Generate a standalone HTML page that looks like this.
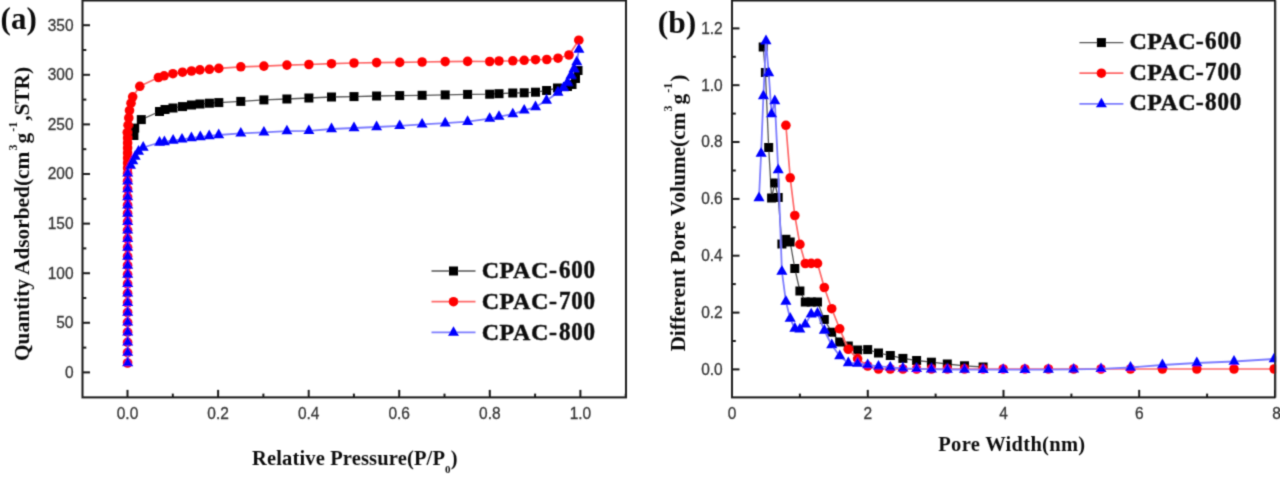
<!DOCTYPE html>
<html><head><meta charset="utf-8"><style>
html,body{margin:0;padding:0;background:#fff;width:1280px;height:477px;overflow:hidden}
svg{display:block}
.tk{font-family:"Liberation Sans",sans-serif;font-size:15.5px;fill:#383838;stroke:#383838;stroke-width:0.3px}
.ti{font-family:"Liberation Serif",serif;font-weight:bold;font-size:20.5px;fill:#111}
.lg{font-family:"Liberation Serif",serif;font-weight:bold;font-size:24px;fill:#111;stroke:#111;stroke-width:0.45px}
.pl{font-family:"Liberation Serif",serif;font-weight:bold;font-size:31.5px;fill:#111}
</style></head><body>
<svg width="1280" height="477" viewBox="0 0 1280 477">
<defs><filter id="bl" x="0" y="0" width="100%" height="100%" filterUnits="userSpaceOnUse"><feConvolveMatrix order="3" kernelMatrix="0.0277 0.1110 0.0277 0.1110 0.4452 0.1110 0.0277 0.1110 0.0277" divisor="1" edgeMode="duplicate"/></filter></defs>
<rect width="1280" height="477" fill="#fff"/>
<g filter="url(#bl)">
<g>
<line x1="82.5" y1="372.4" x2="90.0" y2="372.4" stroke="#1a1a1a" stroke-width="2"/>
<text transform="translate(73.5,377.7) scale(1,1.1)" text-anchor="end" class="tk">0</text>
<line x1="82.5" y1="322.8" x2="90.0" y2="322.8" stroke="#1a1a1a" stroke-width="2"/>
<text transform="translate(73.5,328.1) scale(1,1.1)" text-anchor="end" class="tk">50</text>
<line x1="82.5" y1="273.2" x2="90.0" y2="273.2" stroke="#1a1a1a" stroke-width="2"/>
<text transform="translate(73.5,278.5) scale(1,1.1)" text-anchor="end" class="tk">100</text>
<line x1="82.5" y1="223.6" x2="90.0" y2="223.6" stroke="#1a1a1a" stroke-width="2"/>
<text transform="translate(73.5,228.9) scale(1,1.1)" text-anchor="end" class="tk">150</text>
<line x1="82.5" y1="174.0" x2="90.0" y2="174.0" stroke="#1a1a1a" stroke-width="2"/>
<text transform="translate(73.5,179.3) scale(1,1.1)" text-anchor="end" class="tk">200</text>
<line x1="82.5" y1="124.4" x2="90.0" y2="124.4" stroke="#1a1a1a" stroke-width="2"/>
<text transform="translate(73.5,129.7) scale(1,1.1)" text-anchor="end" class="tk">250</text>
<line x1="82.5" y1="74.8" x2="90.0" y2="74.8" stroke="#1a1a1a" stroke-width="2"/>
<text transform="translate(73.5,80.1) scale(1,1.1)" text-anchor="end" class="tk">300</text>
<line x1="82.5" y1="25.2" x2="90.0" y2="25.2" stroke="#1a1a1a" stroke-width="2"/>
<text transform="translate(73.5,30.5) scale(1,1.1)" text-anchor="end" class="tk">350</text>
<line x1="82.5" y1="347.6" x2="86.3" y2="347.6" stroke="#1a1a1a" stroke-width="2"/>
<line x1="82.5" y1="298.0" x2="86.3" y2="298.0" stroke="#1a1a1a" stroke-width="2"/>
<line x1="82.5" y1="248.4" x2="86.3" y2="248.4" stroke="#1a1a1a" stroke-width="2"/>
<line x1="82.5" y1="198.8" x2="86.3" y2="198.8" stroke="#1a1a1a" stroke-width="2"/>
<line x1="82.5" y1="149.2" x2="86.3" y2="149.2" stroke="#1a1a1a" stroke-width="2"/>
<line x1="82.5" y1="99.6" x2="86.3" y2="99.6" stroke="#1a1a1a" stroke-width="2"/>
<line x1="82.5" y1="50.0" x2="86.3" y2="50.0" stroke="#1a1a1a" stroke-width="2"/>
<line x1="127.5" y1="397.4" x2="127.5" y2="389.9" stroke="#1a1a1a" stroke-width="2"/>
<text transform="translate(127.5,419.4) scale(1,1.1)" text-anchor="middle" class="tk">0.0</text>
<line x1="218.1" y1="397.4" x2="218.1" y2="389.9" stroke="#1a1a1a" stroke-width="2"/>
<text transform="translate(218.1,419.4) scale(1,1.1)" text-anchor="middle" class="tk">0.2</text>
<line x1="308.7" y1="397.4" x2="308.7" y2="389.9" stroke="#1a1a1a" stroke-width="2"/>
<text transform="translate(308.7,419.4) scale(1,1.1)" text-anchor="middle" class="tk">0.4</text>
<line x1="399.2" y1="397.4" x2="399.2" y2="389.9" stroke="#1a1a1a" stroke-width="2"/>
<text transform="translate(399.2,419.4) scale(1,1.1)" text-anchor="middle" class="tk">0.6</text>
<line x1="489.8" y1="397.4" x2="489.8" y2="389.9" stroke="#1a1a1a" stroke-width="2"/>
<text transform="translate(489.8,419.4) scale(1,1.1)" text-anchor="middle" class="tk">0.8</text>
<line x1="580.4" y1="397.4" x2="580.4" y2="389.9" stroke="#1a1a1a" stroke-width="2"/>
<text transform="translate(580.4,419.4) scale(1,1.1)" text-anchor="middle" class="tk">1.0</text>
<line x1="172.8" y1="397.4" x2="172.8" y2="393.59999999999997" stroke="#1a1a1a" stroke-width="2"/>
<line x1="263.4" y1="397.4" x2="263.4" y2="393.59999999999997" stroke="#1a1a1a" stroke-width="2"/>
<line x1="353.9" y1="397.4" x2="353.9" y2="393.59999999999997" stroke="#1a1a1a" stroke-width="2"/>
<line x1="444.5" y1="397.4" x2="444.5" y2="393.59999999999997" stroke="#1a1a1a" stroke-width="2"/>
<line x1="535.1" y1="397.4" x2="535.1" y2="393.59999999999997" stroke="#1a1a1a" stroke-width="2"/>
<line x1="625.7" y1="397.4" x2="625.7" y2="393.59999999999997" stroke="#1a1a1a" stroke-width="2"/>
<rect x="82.5" y="0.5" width="543.5" height="396.9" fill="none" stroke="#1a1a1a" stroke-width="2"/>
</g>
<line x1="732.0" y1="369.4" x2="739.5" y2="369.4" stroke="#1a1a1a" stroke-width="2"/>
<text transform="translate(722.7,374.7) scale(1,1.1)" text-anchor="end" class="tk">0.0</text>
<line x1="732.0" y1="312.6" x2="739.5" y2="312.6" stroke="#1a1a1a" stroke-width="2"/>
<text transform="translate(722.7,317.9) scale(1,1.1)" text-anchor="end" class="tk">0.2</text>
<line x1="732.0" y1="255.7" x2="739.5" y2="255.7" stroke="#1a1a1a" stroke-width="2"/>
<text transform="translate(722.7,261.0) scale(1,1.1)" text-anchor="end" class="tk">0.4</text>
<line x1="732.0" y1="198.9" x2="739.5" y2="198.9" stroke="#1a1a1a" stroke-width="2"/>
<text transform="translate(722.7,204.2) scale(1,1.1)" text-anchor="end" class="tk">0.6</text>
<line x1="732.0" y1="142.0" x2="739.5" y2="142.0" stroke="#1a1a1a" stroke-width="2"/>
<text transform="translate(722.7,147.3) scale(1,1.1)" text-anchor="end" class="tk">0.8</text>
<line x1="732.0" y1="85.2" x2="739.5" y2="85.2" stroke="#1a1a1a" stroke-width="2"/>
<text transform="translate(722.7,90.5) scale(1,1.1)" text-anchor="end" class="tk">1.0</text>
<line x1="732.0" y1="28.4" x2="739.5" y2="28.4" stroke="#1a1a1a" stroke-width="2"/>
<text transform="translate(722.7,33.7) scale(1,1.1)" text-anchor="end" class="tk">1.2</text>
<line x1="732.0" y1="341.0" x2="735.8" y2="341.0" stroke="#1a1a1a" stroke-width="2"/>
<line x1="732.0" y1="284.1" x2="735.8" y2="284.1" stroke="#1a1a1a" stroke-width="2"/>
<line x1="732.0" y1="227.3" x2="735.8" y2="227.3" stroke="#1a1a1a" stroke-width="2"/>
<line x1="732.0" y1="170.5" x2="735.8" y2="170.5" stroke="#1a1a1a" stroke-width="2"/>
<line x1="732.0" y1="113.6" x2="735.8" y2="113.6" stroke="#1a1a1a" stroke-width="2"/>
<line x1="732.0" y1="56.8" x2="735.8" y2="56.8" stroke="#1a1a1a" stroke-width="2"/>
<line x1="732.0" y1="-0.1" x2="735.8" y2="-0.1" stroke="#1a1a1a" stroke-width="2"/>
<line x1="732.0" y1="397.4" x2="732.0" y2="389.9" stroke="#1a1a1a" stroke-width="2"/>
<text transform="translate(732.0,419.4) scale(1,1.1)" text-anchor="middle" class="tk">0</text>
<line x1="867.8" y1="397.4" x2="867.8" y2="389.9" stroke="#1a1a1a" stroke-width="2"/>
<text transform="translate(867.8,419.4) scale(1,1.1)" text-anchor="middle" class="tk">2</text>
<line x1="1003.5" y1="397.4" x2="1003.5" y2="389.9" stroke="#1a1a1a" stroke-width="2"/>
<text transform="translate(1003.5,419.4) scale(1,1.1)" text-anchor="middle" class="tk">4</text>
<line x1="1139.2" y1="397.4" x2="1139.2" y2="389.9" stroke="#1a1a1a" stroke-width="2"/>
<text transform="translate(1139.2,419.4) scale(1,1.1)" text-anchor="middle" class="tk">6</text>
<line x1="1275.0" y1="397.4" x2="1275.0" y2="389.9" stroke="#1a1a1a" stroke-width="2"/>
<text transform="translate(1276.5,419.4) scale(1,1.1)" text-anchor="middle" class="tk">8</text>
<line x1="799.9" y1="397.4" x2="799.9" y2="393.59999999999997" stroke="#1a1a1a" stroke-width="2"/>
<line x1="935.6" y1="397.4" x2="935.6" y2="393.59999999999997" stroke="#1a1a1a" stroke-width="2"/>
<line x1="1071.4" y1="397.4" x2="1071.4" y2="393.59999999999997" stroke="#1a1a1a" stroke-width="2"/>
<line x1="1207.1" y1="397.4" x2="1207.1" y2="393.59999999999997" stroke="#1a1a1a" stroke-width="2"/>
<rect x="732.0" y="0.5" width="543.3" height="396.9" fill="none" stroke="#1a1a1a" stroke-width="2"/>
<g>
<polyline points="127.5,363.0 127.5,358.0 127.5,353.0 127.5,348.0 127.5,343.0 127.5,338.0 127.5,333.0 127.5,328.0 127.5,323.0 127.5,318.0 127.5,313.0 127.5,308.0 127.5,303.0 127.5,298.0 127.5,293.0 127.5,288.0 127.5,283.0 127.5,278.0 127.5,273.0 127.5,268.0 127.5,263.0 127.5,258.0 127.5,253.0 127.5,248.0 127.5,243.0 127.5,238.0 127.5,233.0 127.5,228.0 127.5,223.0 127.5,218.0 127.5,213.0 127.5,208.0 127.5,203.0 127.5,198.0 127.5,193.0 127.5,188.0 127.5,183.0 127.5,178.0 127.5,173.0 127.5,168.0 127.5,163.0 127.5,158.0 127.5,153.0 127.5,148.0 127.5,143.0 133.9,135.5 134.7,128.1 141.3,119.6 159.5,111.5 165.0,109.5 173.0,108.0 182.5,106.6 191.5,105.0 200.0,104.0 209.4,103.2 218.8,102.6 240.8,101.4 263.9,99.9 286.9,99.0 308.9,98.0 331.5,97.0 354.0,96.6 376.6,96.0 399.7,95.6 422.1,95.3 445.2,94.9 467.6,94.4 489.7,94.2 499.0,93.7 512.8,93.0 524.2,92.8 535.5,92.2 546.6,90.5 557.5,88.0 567.5,86.5 572.0,84.5 575.5,78.5 578.0,70.5" fill="none" stroke="#555" stroke-width="1.3" stroke-opacity="1.0" stroke-linejoin="round"/>
<rect x="129.4" y="131.0" width="9.0" height="9.0" fill="#000"/>
<rect x="130.2" y="123.6" width="9.0" height="9.0" fill="#000"/>
<rect x="136.8" y="115.1" width="9.0" height="9.0" fill="#000"/>
<rect x="155.0" y="107.0" width="9.0" height="9.0" fill="#000"/>
<rect x="160.5" y="105.0" width="9.0" height="9.0" fill="#000"/>
<rect x="168.5" y="103.5" width="9.0" height="9.0" fill="#000"/>
<rect x="178.0" y="102.1" width="9.0" height="9.0" fill="#000"/>
<rect x="187.0" y="100.5" width="9.0" height="9.0" fill="#000"/>
<rect x="195.5" y="99.5" width="9.0" height="9.0" fill="#000"/>
<rect x="204.9" y="98.7" width="9.0" height="9.0" fill="#000"/>
<rect x="214.3" y="98.1" width="9.0" height="9.0" fill="#000"/>
<rect x="236.3" y="96.9" width="9.0" height="9.0" fill="#000"/>
<rect x="259.4" y="95.4" width="9.0" height="9.0" fill="#000"/>
<rect x="282.4" y="94.5" width="9.0" height="9.0" fill="#000"/>
<rect x="304.4" y="93.5" width="9.0" height="9.0" fill="#000"/>
<rect x="327.0" y="92.5" width="9.0" height="9.0" fill="#000"/>
<rect x="349.5" y="92.1" width="9.0" height="9.0" fill="#000"/>
<rect x="372.1" y="91.5" width="9.0" height="9.0" fill="#000"/>
<rect x="395.2" y="91.1" width="9.0" height="9.0" fill="#000"/>
<rect x="417.6" y="90.8" width="9.0" height="9.0" fill="#000"/>
<rect x="440.7" y="90.4" width="9.0" height="9.0" fill="#000"/>
<rect x="463.1" y="89.9" width="9.0" height="9.0" fill="#000"/>
<rect x="485.2" y="89.7" width="9.0" height="9.0" fill="#000"/>
<rect x="494.5" y="89.2" width="9.0" height="9.0" fill="#000"/>
<rect x="508.3" y="88.5" width="9.0" height="9.0" fill="#000"/>
<rect x="519.7" y="88.3" width="9.0" height="9.0" fill="#000"/>
<rect x="531.0" y="87.7" width="9.0" height="9.0" fill="#000"/>
<rect x="542.1" y="86.0" width="9.0" height="9.0" fill="#000"/>
<rect x="553.0" y="83.5" width="9.0" height="9.0" fill="#000"/>
<rect x="563.0" y="82.0" width="9.0" height="9.0" fill="#000"/>
<rect x="567.5" y="80.0" width="9.0" height="9.0" fill="#000"/>
<rect x="571.0" y="74.0" width="9.0" height="9.0" fill="#000"/>
<rect x="573.5" y="66.0" width="9.0" height="9.0" fill="#000"/>
<polyline points="127.6,363.0 127.6,352.6 127.6,342.4 127.6,332.2 127.6,322.3 127.6,312.5 127.6,302.8 127.6,293.3 127.6,283.9 127.6,274.6 127.6,265.5 127.6,256.5 127.6,247.6 127.6,238.9 127.6,230.3 127.6,221.8 127.6,213.5 127.6,205.2 127.6,197.1 127.6,189.1 127.6,181.2 127.6,173.4 127.6,168.0 127.6,163.0 127.6,158.0 127.6,153.0 127.6,148.0 127.6,143.0 127.6,138.0 127.3,132.5 128.1,125.2 128.8,117.9 129.5,110.5 131.0,103.2 132.7,96.8 139.8,86.3 158.4,77.5 164.1,75.8 172.9,73.7 182.5,72.2 191.5,71.0 199.9,69.9 209.4,69.3 218.8,68.4 240.8,66.8 263.9,66.1 286.9,65.1 308.9,64.5 331.5,63.7 354.0,63.0 376.6,62.6 399.7,62.4 422.1,62.0 445.2,61.6 467.6,61.4 489.7,61.5 499.0,61.0 512.8,60.8 524.2,60.3 535.5,59.7 546.8,59.5 558.0,58.2 569.0,55.0 578.8,40.2" fill="none" stroke="#ff6868" stroke-width="1.7" stroke-opacity="1.0" stroke-linejoin="round"/>
<circle cx="127.6" cy="363.0" r="4.8" fill="#f00"/>
<circle cx="127.6" cy="352.6" r="4.8" fill="#f00"/>
<circle cx="127.6" cy="342.4" r="4.8" fill="#f00"/>
<circle cx="127.6" cy="332.2" r="4.8" fill="#f00"/>
<circle cx="127.6" cy="322.3" r="4.8" fill="#f00"/>
<circle cx="127.6" cy="312.5" r="4.8" fill="#f00"/>
<circle cx="127.6" cy="302.8" r="4.8" fill="#f00"/>
<circle cx="127.6" cy="293.3" r="4.8" fill="#f00"/>
<circle cx="127.6" cy="283.9" r="4.8" fill="#f00"/>
<circle cx="127.6" cy="274.6" r="4.8" fill="#f00"/>
<circle cx="127.6" cy="265.5" r="4.8" fill="#f00"/>
<circle cx="127.6" cy="256.5" r="4.8" fill="#f00"/>
<circle cx="127.6" cy="247.6" r="4.8" fill="#f00"/>
<circle cx="127.6" cy="238.9" r="4.8" fill="#f00"/>
<circle cx="127.6" cy="230.3" r="4.8" fill="#f00"/>
<circle cx="127.6" cy="221.8" r="4.8" fill="#f00"/>
<circle cx="127.6" cy="213.5" r="4.8" fill="#f00"/>
<circle cx="127.6" cy="205.2" r="4.8" fill="#f00"/>
<circle cx="127.6" cy="197.1" r="4.8" fill="#f00"/>
<circle cx="127.6" cy="189.1" r="4.8" fill="#f00"/>
<circle cx="127.6" cy="181.2" r="4.8" fill="#f00"/>
<circle cx="127.6" cy="173.4" r="4.8" fill="#f00"/>
<circle cx="127.6" cy="168.0" r="4.8" fill="#f00"/>
<circle cx="127.6" cy="163.0" r="4.8" fill="#f00"/>
<circle cx="127.6" cy="158.0" r="4.8" fill="#f00"/>
<circle cx="127.6" cy="153.0" r="4.8" fill="#f00"/>
<circle cx="127.6" cy="148.0" r="4.8" fill="#f00"/>
<circle cx="127.6" cy="143.0" r="4.8" fill="#f00"/>
<circle cx="127.6" cy="138.0" r="4.8" fill="#f00"/>
<circle cx="127.3" cy="132.5" r="4.8" fill="#f00"/>
<circle cx="128.1" cy="125.2" r="4.8" fill="#f00"/>
<circle cx="128.8" cy="117.9" r="4.8" fill="#f00"/>
<circle cx="129.5" cy="110.5" r="4.8" fill="#f00"/>
<circle cx="131.0" cy="103.2" r="4.8" fill="#f00"/>
<circle cx="132.7" cy="96.8" r="4.8" fill="#f00"/>
<circle cx="139.8" cy="86.3" r="4.8" fill="#f00"/>
<circle cx="158.4" cy="77.5" r="4.8" fill="#f00"/>
<circle cx="164.1" cy="75.8" r="4.8" fill="#f00"/>
<circle cx="172.9" cy="73.7" r="4.8" fill="#f00"/>
<circle cx="182.5" cy="72.2" r="4.8" fill="#f00"/>
<circle cx="191.5" cy="71.0" r="4.8" fill="#f00"/>
<circle cx="199.9" cy="69.9" r="4.8" fill="#f00"/>
<circle cx="209.4" cy="69.3" r="4.8" fill="#f00"/>
<circle cx="218.8" cy="68.4" r="4.8" fill="#f00"/>
<circle cx="240.8" cy="66.8" r="4.8" fill="#f00"/>
<circle cx="263.9" cy="66.1" r="4.8" fill="#f00"/>
<circle cx="286.9" cy="65.1" r="4.8" fill="#f00"/>
<circle cx="308.9" cy="64.5" r="4.8" fill="#f00"/>
<circle cx="331.5" cy="63.7" r="4.8" fill="#f00"/>
<circle cx="354.0" cy="63.0" r="4.8" fill="#f00"/>
<circle cx="376.6" cy="62.6" r="4.8" fill="#f00"/>
<circle cx="399.7" cy="62.4" r="4.8" fill="#f00"/>
<circle cx="422.1" cy="62.0" r="4.8" fill="#f00"/>
<circle cx="445.2" cy="61.6" r="4.8" fill="#f00"/>
<circle cx="467.6" cy="61.4" r="4.8" fill="#f00"/>
<circle cx="489.7" cy="61.5" r="4.8" fill="#f00"/>
<circle cx="499.0" cy="61.0" r="4.8" fill="#f00"/>
<circle cx="512.8" cy="60.8" r="4.8" fill="#f00"/>
<circle cx="524.2" cy="60.3" r="4.8" fill="#f00"/>
<circle cx="535.5" cy="59.7" r="4.8" fill="#f00"/>
<circle cx="546.8" cy="59.5" r="4.8" fill="#f00"/>
<circle cx="558.0" cy="58.2" r="4.8" fill="#f00"/>
<circle cx="569.0" cy="55.0" r="4.8" fill="#f00"/>
<circle cx="578.8" cy="40.2" r="4.8" fill="#f00"/>
<polyline points="127.7,363.0 127.7,352.6 127.7,342.4 127.7,332.2 127.7,322.3 127.7,312.5 127.7,302.8 127.7,293.3 127.7,283.9 127.7,274.6 127.7,265.5 127.7,256.5 127.7,247.6 127.7,238.9 127.7,230.3 127.7,221.8 127.7,213.5 127.7,205.2 127.7,197.1 127.7,189.1 127.7,181.2 127.7,173.4 130.5,165.5 132.8,161.0 135.2,156.5 138.5,151.5 143.2,147.5 159.5,142.5 164.4,142.0 173.1,140.5 182.0,139.3 191.4,138.0 200.3,137.0 209.2,136.0 218.7,135.0 240.8,133.4 263.9,132.3 286.9,131.1 308.9,130.8 331.5,129.0 354.0,128.0 376.6,127.0 399.7,125.9 422.1,124.4 445.2,123.2 467.6,121.7 489.7,118.6 499.0,116.6 512.8,114.1 524.2,110.3 535.5,107.0 546.5,100.5 558.0,92.5 563.5,88.0 567.5,82.5 571.0,75.5 574.0,69.0 576.8,62.0 578.9,49.5" fill="none" stroke="#7c7cff" stroke-width="1.8" stroke-opacity="1.0" stroke-linejoin="round"/>
<path d="M127.7 356.6L133.2 366.2L122.2 366.2Z" fill="#00f"/>
<path d="M127.7 346.2L133.2 355.8L122.2 355.8Z" fill="#00f"/>
<path d="M127.7 336.0L133.2 345.6L122.2 345.6Z" fill="#00f"/>
<path d="M127.7 325.8L133.2 335.4L122.2 335.4Z" fill="#00f"/>
<path d="M127.7 315.9L133.2 325.5L122.2 325.5Z" fill="#00f"/>
<path d="M127.7 306.1L133.2 315.7L122.2 315.7Z" fill="#00f"/>
<path d="M127.7 296.4L133.2 306.0L122.2 306.0Z" fill="#00f"/>
<path d="M127.7 286.9L133.2 296.5L122.2 296.5Z" fill="#00f"/>
<path d="M127.7 277.5L133.2 287.1L122.2 287.1Z" fill="#00f"/>
<path d="M127.7 268.2L133.2 277.8L122.2 277.8Z" fill="#00f"/>
<path d="M127.7 259.1L133.2 268.7L122.2 268.7Z" fill="#00f"/>
<path d="M127.7 250.1L133.2 259.7L122.2 259.7Z" fill="#00f"/>
<path d="M127.7 241.2L133.2 250.8L122.2 250.8Z" fill="#00f"/>
<path d="M127.7 232.5L133.2 242.1L122.2 242.1Z" fill="#00f"/>
<path d="M127.7 223.9L133.2 233.5L122.2 233.5Z" fill="#00f"/>
<path d="M127.7 215.4L133.2 225.0L122.2 225.0Z" fill="#00f"/>
<path d="M127.7 207.1L133.2 216.7L122.2 216.7Z" fill="#00f"/>
<path d="M127.7 198.8L133.2 208.4L122.2 208.4Z" fill="#00f"/>
<path d="M127.7 190.7L133.2 200.3L122.2 200.3Z" fill="#00f"/>
<path d="M127.7 182.7L133.2 192.3L122.2 192.3Z" fill="#00f"/>
<path d="M127.7 174.8L133.2 184.4L122.2 184.4Z" fill="#00f"/>
<path d="M127.7 167.0L133.2 176.6L122.2 176.6Z" fill="#00f"/>
<path d="M130.5 159.1L136.0 168.7L125.0 168.7Z" fill="#00f"/>
<path d="M132.8 154.6L138.3 164.2L127.3 164.2Z" fill="#00f"/>
<path d="M135.2 150.1L140.7 159.7L129.7 159.7Z" fill="#00f"/>
<path d="M138.5 145.1L144.0 154.7L133.0 154.7Z" fill="#00f"/>
<path d="M143.2 141.1L148.7 150.7L137.7 150.7Z" fill="#00f"/>
<path d="M159.5 136.1L165.0 145.7L154.0 145.7Z" fill="#00f"/>
<path d="M164.4 135.6L169.9 145.2L158.9 145.2Z" fill="#00f"/>
<path d="M173.1 134.1L178.6 143.7L167.6 143.7Z" fill="#00f"/>
<path d="M182.0 132.9L187.5 142.5L176.5 142.5Z" fill="#00f"/>
<path d="M191.4 131.6L196.9 141.2L185.9 141.2Z" fill="#00f"/>
<path d="M200.3 130.6L205.8 140.2L194.8 140.2Z" fill="#00f"/>
<path d="M209.2 129.6L214.7 139.2L203.7 139.2Z" fill="#00f"/>
<path d="M218.7 128.6L224.2 138.2L213.2 138.2Z" fill="#00f"/>
<path d="M240.8 127.0L246.3 136.6L235.3 136.6Z" fill="#00f"/>
<path d="M263.9 125.9L269.4 135.5L258.4 135.5Z" fill="#00f"/>
<path d="M286.9 124.7L292.4 134.3L281.4 134.3Z" fill="#00f"/>
<path d="M308.9 124.4L314.4 134.0L303.4 134.0Z" fill="#00f"/>
<path d="M331.5 122.6L337.0 132.2L326.0 132.2Z" fill="#00f"/>
<path d="M354.0 121.6L359.5 131.2L348.5 131.2Z" fill="#00f"/>
<path d="M376.6 120.6L382.1 130.2L371.1 130.2Z" fill="#00f"/>
<path d="M399.7 119.5L405.2 129.1L394.2 129.1Z" fill="#00f"/>
<path d="M422.1 118.0L427.6 127.6L416.6 127.6Z" fill="#00f"/>
<path d="M445.2 116.8L450.7 126.4L439.7 126.4Z" fill="#00f"/>
<path d="M467.6 115.3L473.1 124.9L462.1 124.9Z" fill="#00f"/>
<path d="M489.7 112.2L495.2 121.8L484.2 121.8Z" fill="#00f"/>
<path d="M499.0 110.2L504.5 119.8L493.5 119.8Z" fill="#00f"/>
<path d="M512.8 107.7L518.3 117.3L507.3 117.3Z" fill="#00f"/>
<path d="M524.2 103.9L529.7 113.5L518.7 113.5Z" fill="#00f"/>
<path d="M535.5 100.6L541.0 110.2L530.0 110.2Z" fill="#00f"/>
<path d="M546.5 94.1L552.0 103.7L541.0 103.7Z" fill="#00f"/>
<path d="M558.0 86.1L563.5 95.7L552.5 95.7Z" fill="#00f"/>
<path d="M563.5 81.6L569.0 91.2L558.0 91.2Z" fill="#00f"/>
<path d="M567.5 76.1L573.0 85.7L562.0 85.7Z" fill="#00f"/>
<path d="M571.0 69.1L576.5 78.7L565.5 78.7Z" fill="#00f"/>
<path d="M574.0 62.6L579.5 72.2L568.5 72.2Z" fill="#00f"/>
<path d="M576.8 55.6L582.3 65.2L571.3 65.2Z" fill="#00f"/>
<path d="M578.9 43.1L584.4 52.7L573.4 52.7Z" fill="#00f"/>
</g>
<g>
<polyline points="763.2,47.0 765.4,72.5 768.7,147.5 771.6,198.0 774.8,183.0 778.2,197.5 781.9,244.0 785.9,239.3 790.2,242.0 794.8,268.5 799.9,291.0 805.3,302.0 811.2,302.0 817.5,302.0 824.3,319.5 831.7,332.2 839.7,342.0 848.3,346.0 857.6,350.0 867.7,349.6 878.5,353.0 890.3,355.5 902.9,358.4 916.6,360.5 931.4,362.2 947.3,364.0 964.5,365.8 983.1,367.0" fill="none" stroke="#555" stroke-width="1.3" stroke-opacity="1.0" stroke-linejoin="round"/>
<rect x="758.7" y="42.5" width="9.0" height="9.0" fill="#000"/>
<rect x="760.9" y="68.0" width="9.0" height="9.0" fill="#000"/>
<rect x="764.2" y="143.0" width="9.0" height="9.0" fill="#000"/>
<rect x="767.1" y="193.5" width="9.0" height="9.0" fill="#000"/>
<rect x="770.3" y="178.5" width="9.0" height="9.0" fill="#000"/>
<rect x="773.7" y="193.0" width="9.0" height="9.0" fill="#000"/>
<rect x="777.4" y="239.5" width="9.0" height="9.0" fill="#000"/>
<rect x="781.4" y="234.8" width="9.0" height="9.0" fill="#000"/>
<rect x="785.7" y="237.5" width="9.0" height="9.0" fill="#000"/>
<rect x="790.3" y="264.0" width="9.0" height="9.0" fill="#000"/>
<rect x="795.4" y="286.5" width="9.0" height="9.0" fill="#000"/>
<rect x="800.8" y="297.5" width="9.0" height="9.0" fill="#000"/>
<rect x="806.7" y="297.5" width="9.0" height="9.0" fill="#000"/>
<rect x="813.0" y="297.5" width="9.0" height="9.0" fill="#000"/>
<rect x="819.8" y="315.0" width="9.0" height="9.0" fill="#000"/>
<rect x="827.2" y="327.7" width="9.0" height="9.0" fill="#000"/>
<rect x="835.2" y="337.5" width="9.0" height="9.0" fill="#000"/>
<rect x="843.8" y="341.5" width="9.0" height="9.0" fill="#000"/>
<rect x="853.1" y="345.5" width="9.0" height="9.0" fill="#000"/>
<rect x="863.2" y="345.1" width="9.0" height="9.0" fill="#000"/>
<rect x="874.0" y="348.5" width="9.0" height="9.0" fill="#000"/>
<rect x="885.8" y="351.0" width="9.0" height="9.0" fill="#000"/>
<rect x="898.4" y="353.9" width="9.0" height="9.0" fill="#000"/>
<rect x="912.1" y="356.0" width="9.0" height="9.0" fill="#000"/>
<rect x="926.9" y="357.7" width="9.0" height="9.0" fill="#000"/>
<rect x="942.8" y="359.5" width="9.0" height="9.0" fill="#000"/>
<rect x="960.0" y="361.3" width="9.0" height="9.0" fill="#000"/>
<rect x="978.6" y="362.5" width="9.0" height="9.0" fill="#000"/>
<polyline points="785.9,125.3 790.2,177.8 794.8,215.5 799.9,244.4 805.3,263.5 811.2,263.4 817.5,263.4 824.3,287.5 831.7,308.7 839.7,328.8 848.3,349.3 857.6,358.8 867.7,366.0 878.5,369.0 890.3,369.0 902.9,369.0 916.6,369.0 931.4,369.0 947.3,369.0 964.5,369.0 983.1,369.0 1003.2,369.0 1024.9,369.0 1048.4,369.0 1073.7,369.0 1101.0,369.0 1130.5,369.0 1162.4,369.0 1196.8,369.0 1234.0,369.0 1274.2,369.0" fill="none" stroke="#ff6868" stroke-width="1.7" stroke-opacity="1.0" stroke-linejoin="round"/>
<circle cx="785.9" cy="125.3" r="4.8" fill="#f00"/>
<circle cx="790.2" cy="177.8" r="4.8" fill="#f00"/>
<circle cx="794.8" cy="215.5" r="4.8" fill="#f00"/>
<circle cx="799.9" cy="244.4" r="4.8" fill="#f00"/>
<circle cx="805.3" cy="263.5" r="4.8" fill="#f00"/>
<circle cx="811.2" cy="263.4" r="4.8" fill="#f00"/>
<circle cx="817.5" cy="263.4" r="4.8" fill="#f00"/>
<circle cx="824.3" cy="287.5" r="4.8" fill="#f00"/>
<circle cx="831.7" cy="308.7" r="4.8" fill="#f00"/>
<circle cx="839.7" cy="328.8" r="4.8" fill="#f00"/>
<circle cx="848.3" cy="349.3" r="4.8" fill="#f00"/>
<circle cx="857.6" cy="358.8" r="4.8" fill="#f00"/>
<circle cx="867.7" cy="366.0" r="4.8" fill="#f00"/>
<circle cx="878.5" cy="369.0" r="4.8" fill="#f00"/>
<circle cx="890.3" cy="369.0" r="4.8" fill="#f00"/>
<circle cx="902.9" cy="369.0" r="4.8" fill="#f00"/>
<circle cx="916.6" cy="369.0" r="4.8" fill="#f00"/>
<circle cx="931.4" cy="369.0" r="4.8" fill="#f00"/>
<circle cx="947.3" cy="369.0" r="4.8" fill="#f00"/>
<circle cx="964.5" cy="369.0" r="4.8" fill="#f00"/>
<circle cx="983.1" cy="369.0" r="4.8" fill="#f00"/>
<circle cx="1003.2" cy="369.0" r="4.8" fill="#f00"/>
<circle cx="1024.9" cy="369.0" r="4.8" fill="#f00"/>
<circle cx="1048.4" cy="369.0" r="4.8" fill="#f00"/>
<circle cx="1073.7" cy="369.0" r="4.8" fill="#f00"/>
<circle cx="1101.0" cy="369.0" r="4.8" fill="#f00"/>
<circle cx="1130.5" cy="369.0" r="4.8" fill="#f00"/>
<circle cx="1162.4" cy="369.0" r="4.8" fill="#f00"/>
<circle cx="1196.8" cy="369.0" r="4.8" fill="#f00"/>
<circle cx="1234.0" cy="369.0" r="4.8" fill="#f00"/>
<circle cx="1274.2" cy="369.0" r="4.8" fill="#f00"/>
<polyline points="759.0,198.0 761.1,153.5 763.4,96.0 766.0,41.0 768.7,73.0 771.6,114.0 774.8,101.0 778.2,170.0 781.9,271.5 785.9,301.5 790.2,318.5 794.8,328.5 799.9,329.3 805.3,324.3 811.2,314.2 817.5,313.4 824.3,330.5 831.7,345.0 839.7,356.0 848.3,363.0 857.6,363.5 867.7,365.0 878.5,366.3 890.3,367.3 902.9,368.3 916.6,368.8 931.4,369.2 947.3,369.5 964.5,369.6 983.1,369.7 1003.2,369.7 1024.9,369.7 1048.4,369.6 1073.7,369.4 1101.0,368.9 1130.5,367.5 1162.4,365.0 1196.8,363.0 1234.0,361.5 1274.2,359.0" fill="none" stroke="#7c7cff" stroke-width="1.8" stroke-opacity="1.0" stroke-linejoin="round"/>
<path d="M759.0 191.6L764.5 201.2L753.4 201.2Z" fill="#00f"/>
<path d="M761.1 147.1L766.7 156.7L755.6 156.7Z" fill="#00f"/>
<path d="M763.4 89.6L769.0 99.2L757.9 99.2Z" fill="#00f"/>
<path d="M766.0 34.6L771.5 44.2L760.4 44.2Z" fill="#00f"/>
<path d="M768.7 66.6L774.2 76.2L763.1 76.2Z" fill="#00f"/>
<path d="M771.6 107.6L777.1 117.2L766.1 117.2Z" fill="#00f"/>
<path d="M774.8 94.6L780.3 104.2L769.2 104.2Z" fill="#00f"/>
<path d="M778.2 163.6L783.7 173.2L772.7 173.2Z" fill="#00f"/>
<path d="M781.9 265.1L787.4 274.7L776.3 274.7Z" fill="#00f"/>
<path d="M785.9 295.1L791.4 304.7L780.3 304.7Z" fill="#00f"/>
<path d="M790.2 312.1L795.7 321.7L784.6 321.7Z" fill="#00f"/>
<path d="M794.8 322.1L800.4 331.7L789.3 331.7Z" fill="#00f"/>
<path d="M799.9 322.9L805.4 332.5L794.3 332.5Z" fill="#00f"/>
<path d="M805.3 317.9L810.8 327.5L799.8 327.5Z" fill="#00f"/>
<path d="M811.2 307.8L816.7 317.4L805.6 317.4Z" fill="#00f"/>
<path d="M817.5 307.0L823.0 316.6L812.0 316.6Z" fill="#00f"/>
<path d="M824.3 324.1L829.9 333.7L818.8 333.7Z" fill="#00f"/>
<path d="M831.7 338.6L837.3 348.2L826.2 348.2Z" fill="#00f"/>
<path d="M839.7 349.6L845.3 359.2L834.2 359.2Z" fill="#00f"/>
<path d="M848.3 356.6L853.9 366.2L842.8 366.2Z" fill="#00f"/>
<path d="M857.6 357.1L863.2 366.7L852.1 366.7Z" fill="#00f"/>
<path d="M867.7 358.6L873.2 368.2L862.1 368.2Z" fill="#00f"/>
<path d="M878.5 359.9L884.1 369.5L873.0 369.5Z" fill="#00f"/>
<path d="M890.3 360.9L895.8 370.5L884.7 370.5Z" fill="#00f"/>
<path d="M902.9 361.9L908.5 371.5L897.4 371.5Z" fill="#00f"/>
<path d="M916.6 362.4L922.1 372.0L911.1 372.0Z" fill="#00f"/>
<path d="M931.4 362.8L936.9 372.4L925.8 372.4Z" fill="#00f"/>
<path d="M947.3 363.1L952.9 372.7L941.8 372.7Z" fill="#00f"/>
<path d="M964.5 363.2L970.1 372.8L959.0 372.8Z" fill="#00f"/>
<path d="M983.1 363.3L988.7 372.9L977.6 372.9Z" fill="#00f"/>
<path d="M1003.2 363.3L1008.8 372.9L997.7 372.9Z" fill="#00f"/>
<path d="M1024.9 363.3L1030.5 372.9L1019.4 372.9Z" fill="#00f"/>
<path d="M1048.4 363.2L1053.9 372.8L1042.8 372.8Z" fill="#00f"/>
<path d="M1073.7 363.0L1079.2 372.6L1068.1 372.6Z" fill="#00f"/>
<path d="M1101.0 362.5L1106.5 372.1L1095.5 372.1Z" fill="#00f"/>
<path d="M1130.5 361.1L1136.1 370.7L1125.0 370.7Z" fill="#00f"/>
<path d="M1162.4 358.6L1168.0 368.2L1156.9 368.2Z" fill="#00f"/>
<path d="M1196.8 356.6L1202.4 366.2L1191.3 366.2Z" fill="#00f"/>
<path d="M1234.0 355.1L1239.6 364.7L1228.5 364.7Z" fill="#00f"/>
<path d="M1274.2 352.6L1279.7 362.2L1268.6 362.2Z" fill="#00f"/>
</g>
<rect x="1276.3" y="0" width="3.7000000000000455" height="400" fill="#fff"/>
<line x1="1275.3" y1="0.5" x2="1275.3" y2="397.4" stroke="#1a1a1a" stroke-width="2"/>
<line x1="431.5" y1="271.0" x2="475.5" y2="271.0" stroke="#555" stroke-width="1.3"/>
<rect x="449.0" y="266.5" width="9.0" height="9.0" fill="#000"/>
<text x="481.7" y="278.1" class="lg" letter-spacing="0.6">CPAC-</text>
<text transform="translate(559.0,278.1) scale(0.96,1.08)" class="lg" letter-spacing="0.7">600</text>
<line x1="431.5" y1="301.7" x2="475.5" y2="301.7" stroke="#ff6868" stroke-width="1.7"/>
<circle cx="453.5" cy="301.7" r="4.8" fill="#f00"/>
<text x="481.7" y="308.8" class="lg" letter-spacing="0.6">CPAC-</text>
<text transform="translate(559.0,308.8) scale(0.96,1.08)" class="lg" letter-spacing="0.7">700</text>
<line x1="431.5" y1="332.4" x2="475.5" y2="332.4" stroke="#7c7cff" stroke-width="1.8"/>
<path d="M453.5 326.2L459.0 335.8L448.0 335.8Z" fill="#00f"/>
<text x="481.7" y="339.5" class="lg" letter-spacing="0.6">CPAC-</text>
<text transform="translate(559.0,339.5) scale(0.96,1.08)" class="lg" letter-spacing="0.7">800</text>
<line x1="1079.4" y1="42.6" x2="1123.4" y2="42.6" stroke="#555" stroke-width="1.3"/>
<rect x="1096.9" y="38.1" width="9.0" height="9.0" fill="#000"/>
<text x="1129.6" y="49.0" class="lg" letter-spacing="0.35">CPAC-</text>
<text transform="translate(1205.0,49.0) scale(0.96,1.08)" class="lg" letter-spacing="0.9">600</text>
<line x1="1079.4" y1="73.2" x2="1123.4" y2="73.2" stroke="#ff6868" stroke-width="1.7"/>
<circle cx="1101.4" cy="73.2" r="4.8" fill="#f00"/>
<text x="1129.6" y="79.7" class="lg" letter-spacing="0.35">CPAC-</text>
<text transform="translate(1205.0,79.7) scale(0.96,1.08)" class="lg" letter-spacing="0.9">700</text>
<line x1="1079.4" y1="103.9" x2="1123.4" y2="103.9" stroke="#7c7cff" stroke-width="1.8"/>
<path d="M1101.4 97.7L1106.9 107.3L1095.9 107.3Z" fill="#00f"/>
<text x="1129.6" y="110.3" class="lg" letter-spacing="0.35">CPAC-</text>
<text transform="translate(1205.0,110.3) scale(0.96,1.08)" class="lg" letter-spacing="0.9">800</text>
<text x="252" y="464.6" class="ti" letter-spacing="0.15">Relative Pressure(P/P<tspan font-size="11" dy="8.5">0</tspan><tspan dy="-8.5">)</tspan></text>
<text x="938.3" y="450.7" class="ti" letter-spacing="0.3">Pore Width(nm)</text>
<text transform="translate(28.5,361) rotate(-90) scale(1.042,1)" class="ti">Quantity Adsorbed(cm<tspan font-size="11.5" dy="-11.5" dx="1">3</tspan><tspan dy="11.5" dx="1">g</tspan><tspan font-size="11.5" dy="-11.5" dx="1">-1</tspan><tspan dy="11.5" dx="1">,STR)</tspan></text>
<text transform="translate(684.5,351.6) rotate(-90) scale(1.044,1)" class="ti">Different Pore Volume(cm<tspan font-size="11.5" dy="-12.5" dx="1">3</tspan><tspan dy="12.5" dx="1">g</tspan><tspan font-size="11.5" dy="-12.5" dx="1">-1</tspan><tspan dy="12.5" dx="1">)</tspan></text>
<text x="0.6" y="28.8" class="pl" style="font-size:31px">(a)</text>
<text x="657.8" y="32.6" class="pl">(b)</text>
</g>
</svg>
</body></html>
